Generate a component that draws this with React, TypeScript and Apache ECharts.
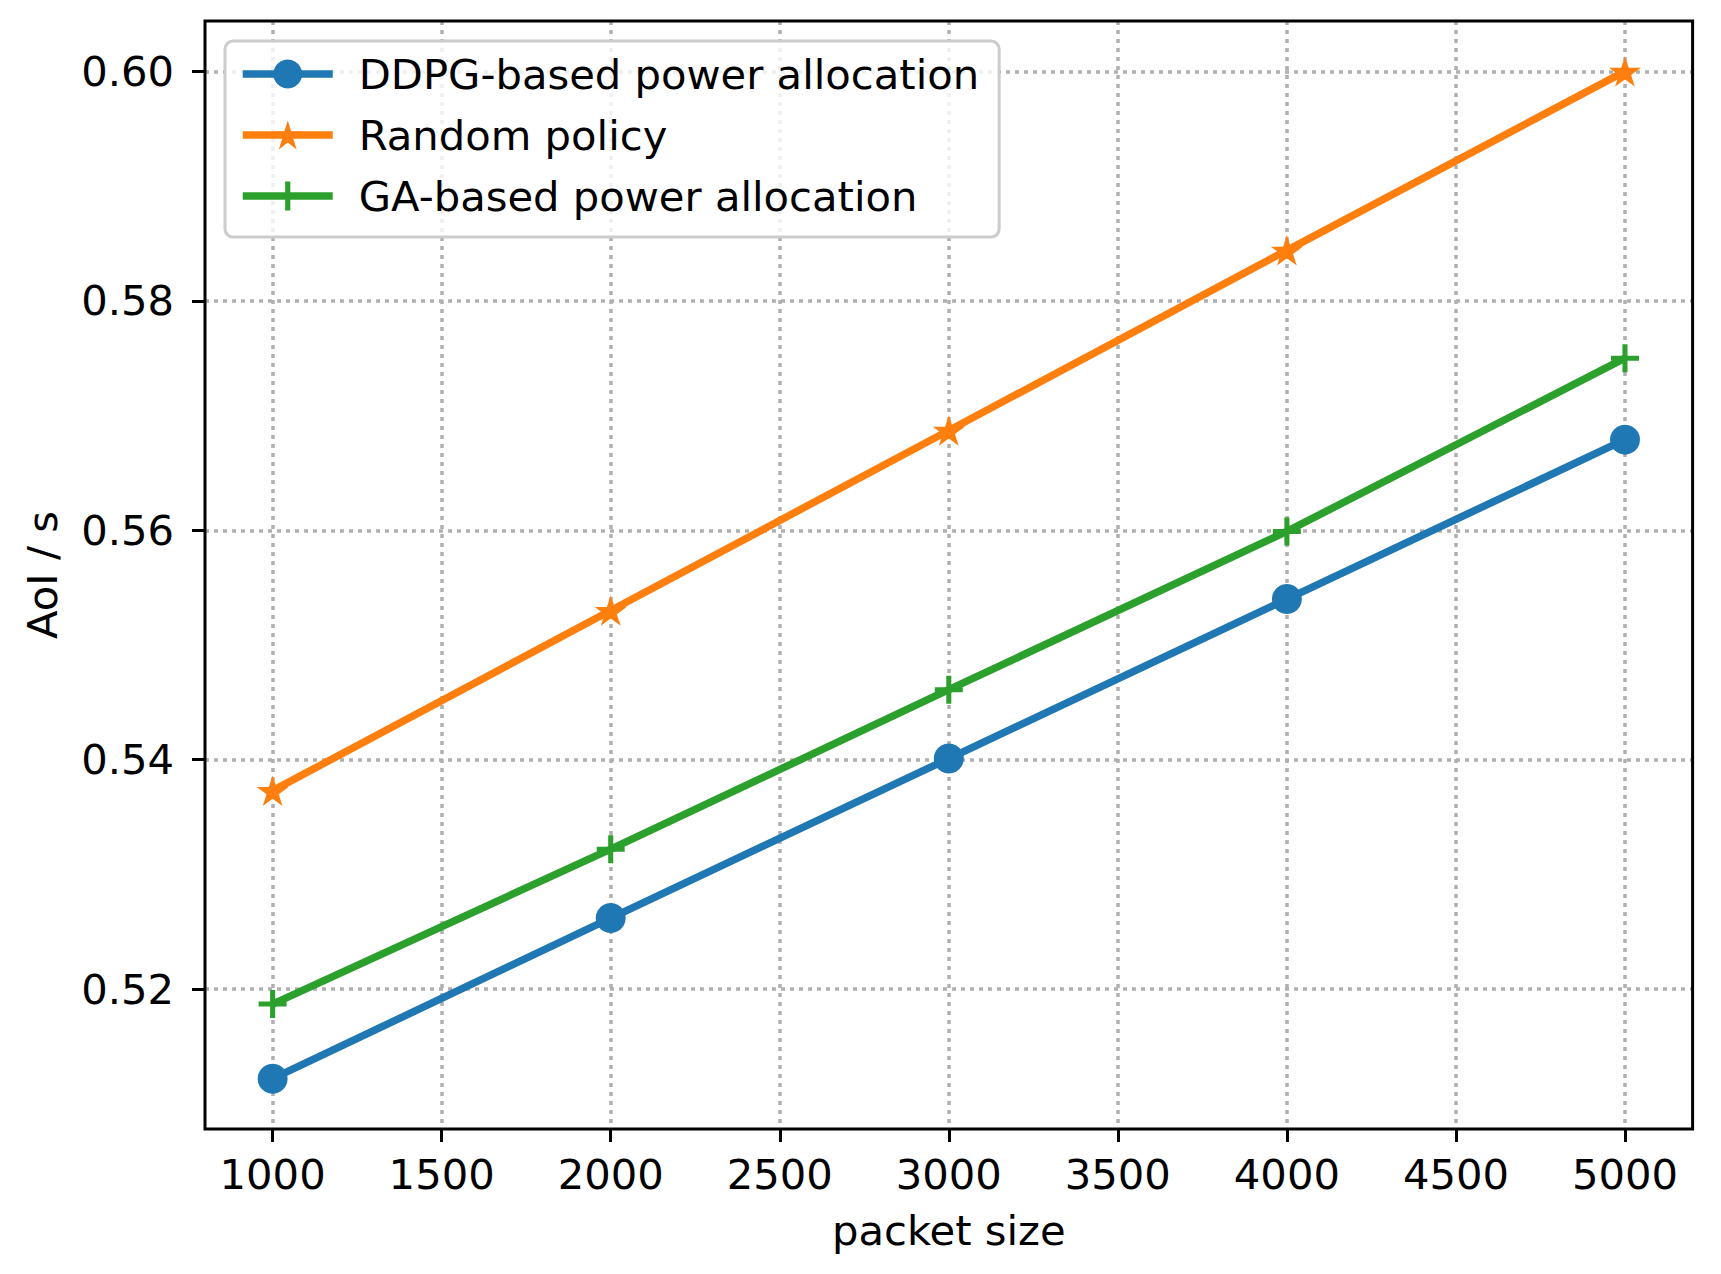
import React, { useEffect, useRef } from "react";
import * as echarts from "echarts";

const packetSizes = [1000, 2000, 3000, 4000, 5000];
const ddpgAoI = [0.5122, 0.5262, 0.5401, 0.554, 0.5679];
const randomAoI = [0.5373, 0.553, 0.5687, 0.5844, 0.6];
const gaAoI = [0.5187, 0.5322, 0.5461, 0.5599, 0.575];
const xTicks = [1000, 1500, 2000, 2500, 3000, 3500, 4000, 4500, 5000];
const yTicks = [0.52, 0.54, 0.56, 0.58, 0.6];
const seriesNames = [
  "DDPG-based power allocation",
  "Random policy",
  "GA-based power allocation",
];
const xTitle = "packet size";
const yTitle = "AoI / s";

const FONT = "DejaVu Sans";
const FS = 41.7;
const COLORS = ["#1f77b4", "#ff7f0e", "#2ca02c"];

const STAR =
  "path://M0,-100L-22.45,-30.9L-95.1,-30.9L-36.3,11.8L-58.8,80.9L0,38.2L58.8,80.9L36.3,11.8L95.1,-30.9L22.45,-30.9Z";
const PLUS =
  "path://M-18,-100L18,-100L18,-18L100,-18L100,18L18,18L18,100L-18,100L-18,18L-100,18L-100,-18L-18,-18Z";

export default function App() {
  const ref = useRef<HTMLDivElement>(null);

  useEffect(() => {
    if (!ref.current) return;
    const chart = echarts.init(ref.current, null, { renderer: "svg" });

    const allY = [...ddpgAoI, ...randomAoI, ...gaAoI];
    const yLo = Math.min(...allY);
    const yHi = Math.max(...allY);
    const yPad = (yHi - yLo) * 0.05;
    const xLo = Math.min(...packetSizes);
    const xHi = Math.max(...packetSizes);
    const xPad = (xHi - xLo) * 0.05;

    const tickStyle = { color: "#000", width: 3 };
    const gridLine = {
      show: true,
      lineStyle: { color: "#b0b0b0", width: 3.5, type: [4, 5] },
    };
    const labelStyle = {
      fontFamily: FONT,
      fontSize: FS,
      color: "#000",
    };

    const mk = (vals: number[]) => packetSizes.map((x, i) => [x, vals[i]]);

    const option: any = {
      animation: false,
      backgroundColor: "#ffffff",
      textStyle: { fontFamily: FONT },
      grid: {
        left: 205,
        top: 21,
        right: 28.4,
        bottom: 145,
        show: true,
        borderColor: "#000",
        borderWidth: 3,
        backgroundColor: "transparent",
        containLabel: false,
        outerBoundsMode: "none",
        z: 10,
      },
      legend: {
        show: true,
        orient: "vertical",
        left: 225,
        top: 41,
        data: seriesNames,
        itemWidth: 90,
        itemHeight: 36,
        itemGap: 19,
        padding: [12, 20, 20, 14],
        backgroundColor: "rgba(255,255,255,0.8)",
        borderColor: "#cccccc",
        borderWidth: 3,
        borderRadius: 8,
        selectedMode: false,
        lineStyle: { width: 7.5 },
        textStyle: {
          ...labelStyle,
          lineHeight: FS,
          padding: [0, 0, 0, 21],
        },
      },
      xAxis: {
        type: "value",
        min: xLo - xPad,
        max: xHi + xPad,
        minInterval: 500,
        maxInterval: 500,
        name: xTitle,
        nameLocation: "middle",
        nameGap: 80,
        nameTextStyle: { ...labelStyle },
        axisLine: { show: false },
        axisTick: {
          show: true,
          inside: false,
          length: 13,
          lineStyle: tickStyle,
          customValues: xTicks,
        },
        axisLabel: {
          ...labelStyle,
          show: true,
          margin: 24,
          customValues: xTicks,
          formatter: (v: number) => String(v),
        },
        splitLine: gridLine,
      },
      yAxis: {
        type: "value",
        min: yLo - yPad,
        max: yHi + yPad,
        minInterval: 0.02,
        maxInterval: 0.02,
        name: yTitle,
        nameLocation: "middle",
        nameGap: 142,
        nameRotate: 90,
        nameTextStyle: { ...labelStyle },
        axisLine: { show: false },
        axisTick: {
          show: true,
          inside: false,
          length: 13,
          lineStyle: tickStyle,
          customValues: yTicks,
        },
        axisLabel: {
          ...labelStyle,
          show: true,
          margin: 31,
          customValues: yTicks,
          formatter: (v: number) => v.toFixed(2),
        },
        splitLine: gridLine,
      },
      series: [
        {
          name: seriesNames[0],
          type: "line",
          data: mk(ddpgAoI),
          symbol: "circle",
          symbolSize: 30,
          showSymbol: true,
          lineStyle: { width: 7.5, color: COLORS[0] },
          itemStyle: { color: COLORS[0] },
        },
        {
          name: seriesNames[1],
          type: "line",
          data: mk(randomAoI),
          symbol: STAR,
          symbolKeepAspect: true,
          symbolSize: 32,
          showSymbol: true,
          lineStyle: { width: 7.5, color: COLORS[1] },
          itemStyle: { color: COLORS[1] },
        },
        {
          name: seriesNames[2],
          type: "line",
          data: mk(gaAoI),
          symbol: PLUS,
          symbolSize: 28,
          showSymbol: true,
          lineStyle: { width: 7.5, color: COLORS[2] },
          itemStyle: { color: COLORS[2] },
        },
      ],
    };

    chart.setOption(option);
    return () => chart.dispose();
  }, []);

  return (
    <div
      ref={ref}
      style={{
        position: "absolute",
        left: 0,
        top: 0,
        width: 1721,
        height: 1274,
        background: "#fff",
      }}
    />
  );
}
